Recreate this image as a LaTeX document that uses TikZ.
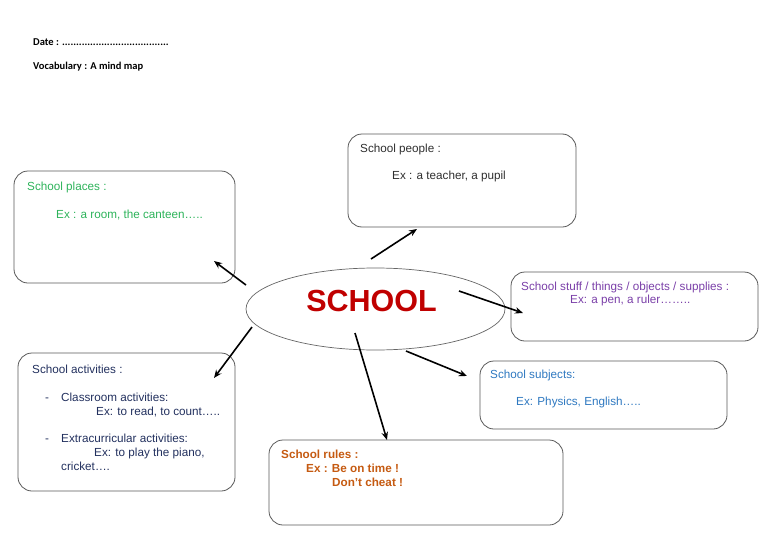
\documentclass[tikz,border=0pt]{standalone}
\usepackage{fontspec}
\setmainfont{Liberation Sans}
\newfontfamily\calibri{Carlito}
\usetikzlibrary{arrows.meta,shapes.geometric}
\definecolor{cgreen}{HTML}{2DB35A}
\definecolor{cpurple}{HTML}{7A3FA8}
\definecolor{cblue}{HTML}{2E78C0}
\definecolor{cnavy}{HTML}{22305E}
\definecolor{corange}{HTML}{C55A11}
\definecolor{cred}{HTML}{C00000}
\definecolor{cgray}{HTML}{2E2E2E}
\tikzset{
  box/.style={draw=black!65, line width=0.8pt, rounded corners=14pt, inner sep=0pt},
  txt/.style={anchor=west, inner sep=0pt, text height=9pt, text depth=1pt, font=\fontsize{11.7}{14}\selectfont},
  hdr/.style={anchor=west, inner sep=0pt, font=\calibri\bfseries\fontsize{10.5}{12}\selectfont},
  link/.style={line width=1.6pt, -{Stealth[length=8pt,width=6.5pt]}},
}
\begin{document}
\begin{tikzpicture}[x=1pt,y=-1pt]
\useasboundingbox (0,0) rectangle (768,543);
% header
\node[hdr] (date) at (33,42) {Date : ......................................};
\node[hdr] (voc) at (33,67) {Vocabulary : A mind map};
% boxes
\node[box, minimum width=221pt, minimum height=112pt] (places) at (124.5,227) {};
\node[box, minimum width=228pt, minimum height=93pt] (people) at (462,180.5) {};
\node[box, minimum width=247pt, minimum height=69pt] (stuff) at (634.5,306.5) {};
\node[box, minimum width=247pt, minimum height=68pt] (subjects) at (603.5,395) {};
\node[box, minimum width=217pt, minimum height=138pt] (activities) at (126.5,422) {};
\node[box, minimum width=294pt, minimum height=85pt] (rules) at (416,482.5) {};
% centre
\node[draw=black!60, line width=0.7pt, ellipse, minimum width=259pt, minimum height=82pt, inner sep=0pt] (school) at (375.5,309) {};
\node[inner sep=0pt, text=cred, font=\bfseries\fontsize{30.5}{34}\selectfont] (schooltxt) at (371.5,300.5) {SCHOOL};
% texts
\node[txt, text=cgreen] (t1) at (27,186) {School places :};
\node[txt, text=cgreen] (t1b) at (56,214) {Ex : a room, the canteen…..};
\node[txt, text=cgray] (t2) at (360,148) {School people :};
\node[txt, text=cgray] (t2b) at (392,175) {Ex : a teacher, a pupil};
\node[txt, text=cpurple] (t3) at (521,286) {School stuff / things / objects / supplies :};
\node[txt, text=cpurple] (t3b) at (570,299) {Ex: a pen, a ruler……..};
\node[txt, text=cblue] (t4) at (490,374) {School subjects:};
\node[txt, text=cblue] (t4b) at (516,401) {Ex: Physics, English…..};
\node[txt, text=cnavy] (t5) at (32,369) {School activities :};
\node[txt, text=cnavy] (t5a) at (45,397) {-};
\node[txt, text=cnavy] (t5b) at (61,397) {Classroom activities:};
\node[txt, text=cnavy] (t5c) at (96,411) {Ex: to read, to count…..};
\node[txt, text=cnavy] (t5d) at (45,438) {-};
\node[txt, text=cnavy] (t5e) at (61,438) {Extracurricular activities:};
\node[txt, text=cnavy] (t5f) at (94,452) {Ex: to play the piano,};
\node[txt, text=cnavy] (t5g) at (61,466) {cricket….};
\node[txt, text=corange, font=\bfseries\fontsize{11.7}{14}\selectfont] (t6) at (281,454) {School rules :};
\node[txt, text=corange, font=\bfseries\fontsize{11.7}{14}\selectfont] (t6b) at (306,468) {Ex : Be on time !};
\node[txt, text=corange, font=\bfseries\fontsize{11.7}{14}\selectfont] (t6c) at (332,482) {Don't cheat !};
% connector ends
\coordinate (a1) at (246,285); \coordinate (b1) at (214,261);
\coordinate (a2) at (371,259); \coordinate (b2) at (417,229);
\coordinate (a3) at (459,291); \coordinate (b3) at (523,313);
\coordinate (a4) at (406,351); \coordinate (b4) at (467,376);
\coordinate (a5) at (355,333); \coordinate (b5) at (387,440);
\coordinate (a6) at (252,327); \coordinate (b6) at (214,378);
\draw[link] (a1) -- (b1);
\draw[link] (a2) -- (b2);
\draw[link] (a3) -- (b3);
\draw[link] (a4) -- (b4);
\draw[link] (a5) -- (b5);
\draw[link] (a6) -- (b6);
\end{tikzpicture}
\end{document}
